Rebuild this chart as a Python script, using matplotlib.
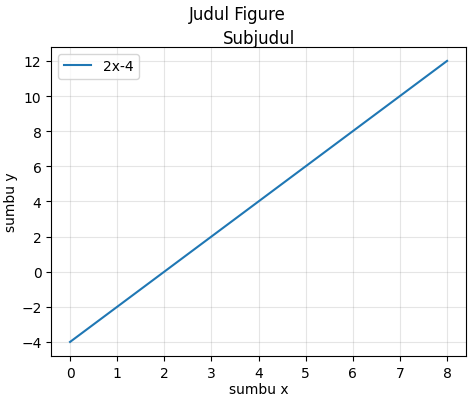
import matplotlib
matplotlib.use("Agg")
import matplotlib.pyplot as plt

x = [0, 1, 2, 3, 4, 5, 6, 7, 8]
y = [-4, -2, 0, 2, 4, 6, 8, 10, 12]

fig, ax = plt.subplots(figsize=(4.74, 4.02), dpi=100)
ax.plot(x, y, label="2x-4")
fig.suptitle("Judul Figure", y=0.985)
ax.set_title("Subjudul", pad=3)
ax.set_xlabel("sumbu x", labelpad=2)
ax.set_ylabel("sumbu y", labelpad=2)
ax.grid(True, color="gray", alpha=0.2, linewidth=0.8)
ax.legend(loc="upper left")
fig.subplots_adjust(left=0.108, right=0.983, top=0.881, bottom=0.112)
fig.savefig("out.png", dpi=100)
